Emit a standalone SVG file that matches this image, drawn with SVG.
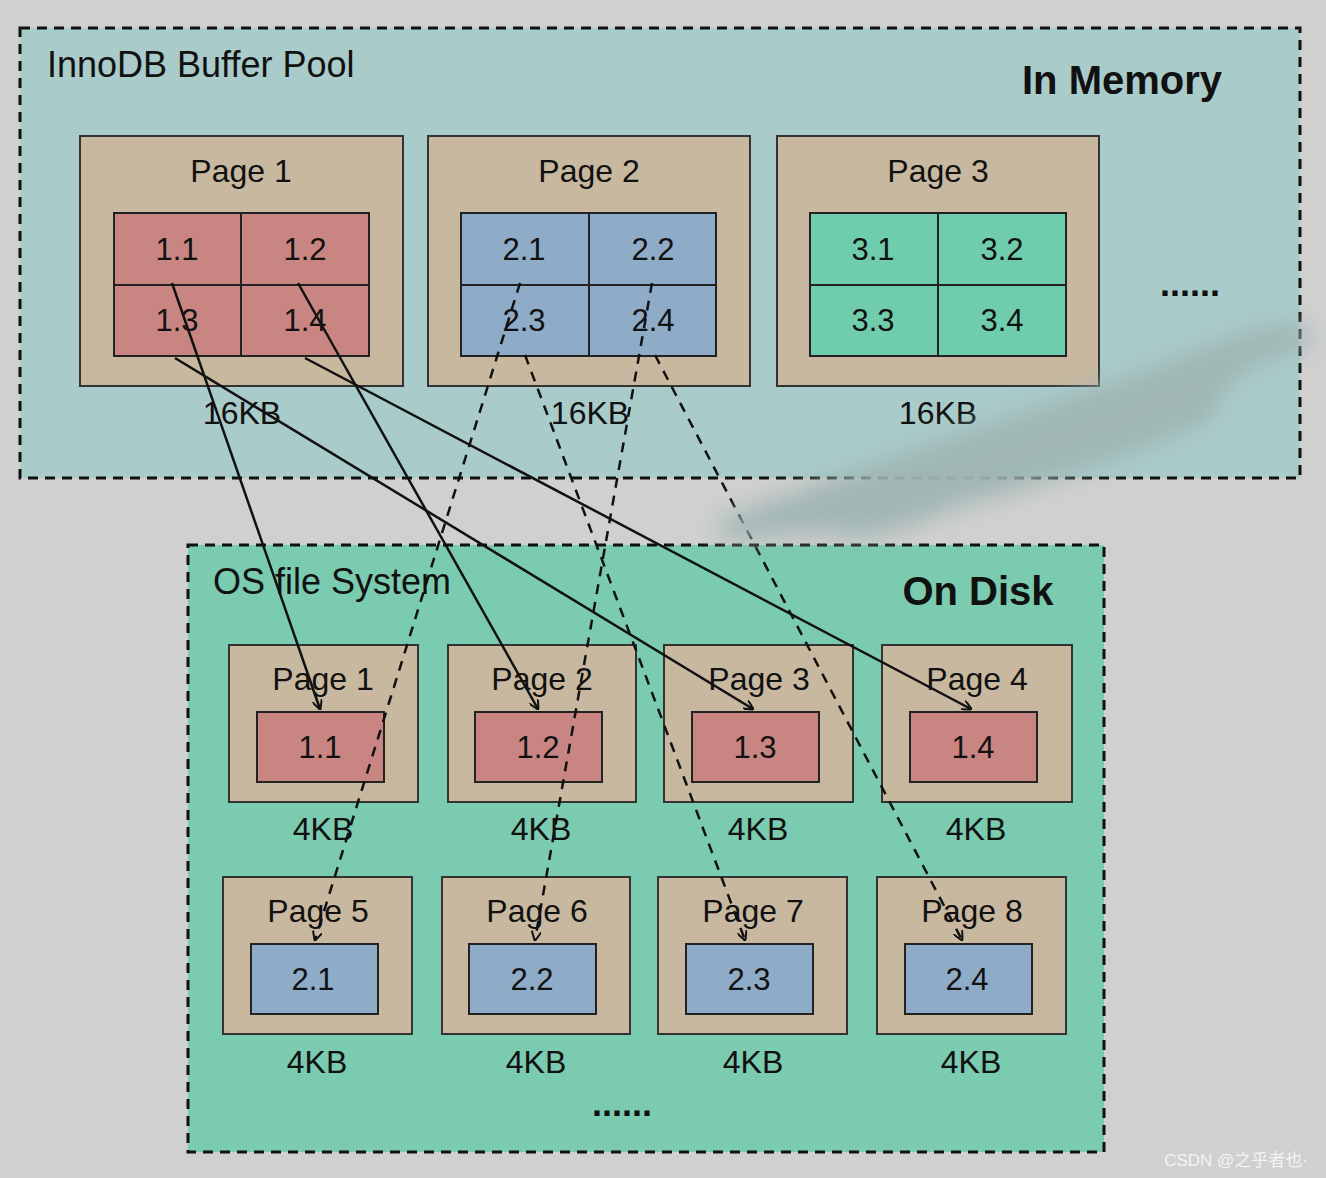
<svg xmlns="http://www.w3.org/2000/svg" width="1326" height="1178" viewBox="0 0 1326 1178">
<style>
text{font-family:"Liberation Sans",Arial,sans-serif;fill:#111}
.pg{fill:#c8b89f;stroke:#333;stroke-width:2}
.r{fill:#c98581;stroke:#222;stroke-width:2}
.b{fill:#8eabc8;stroke:#222;stroke-width:2}
.g{fill:#6fcdae;stroke:#222;stroke-width:2}
.t{font-size:32px;text-anchor:middle}
.s{font-size:31px;text-anchor:middle}
.ln{stroke:#111;stroke-width:2.5;fill:none;marker-end:url(#ah)}
.d{stroke-dasharray:10 8}
</style>
<defs>
<marker id="ah" markerWidth="10" markerHeight="10" refX="9" refY="5" orient="auto" markerUnits="userSpaceOnUse" viewBox="0 0 10 10"><path d="M0,0 L10,5 L0,10" fill="none" stroke="#111" stroke-width="2"/></marker>
<filter id="bl"><feGaussianBlur stdDeviation="12"/></filter>
</defs>
<rect width="1326" height="1178" fill="#d0d0d0"/>
<g id="memory">
<rect x="20" y="28" width="1280" height="450" fill="#a9cbca" stroke="#111" stroke-width="3" stroke-dasharray="10 7"/>
<text x="47" y="77" style="font-size:36px">InnoDB Buffer Pool</text>
<text x="1122" y="94" style="font-size:40px;font-weight:bold;text-anchor:middle">In Memory</text>
<text x="1190" y="296" style="font-size:36px;font-weight:bold;text-anchor:middle">......</text>
</g>
<g id="mp1"><rect class="pg" x="80" y="136" width="323" height="250"/><text class="t" x="241" y="182">Page 1</text>
<rect class="r" x="114" y="213" width="127" height="72"/><rect class="r" x="241" y="213" width="128" height="72"/><rect class="r" x="114" y="285" width="127" height="71"/><rect class="r" x="241" y="285" width="128" height="71"/>
<text class="s" x="177" y="260">1.1</text><text class="s" x="305" y="260">1.2</text><text class="s" x="177" y="331">1.3</text><text class="s" x="305" y="331">1.4</text>
<text class="t" x="242" y="424">16KB</text></g>
<g id="mp2"><rect class="pg" x="428" y="136" width="322" height="250"/><text class="t" x="589" y="182">Page 2</text>
<rect class="b" x="461" y="213" width="128" height="72"/><rect class="b" x="589" y="213" width="127" height="72"/><rect class="b" x="461" y="285" width="128" height="71"/><rect class="b" x="589" y="285" width="127" height="71"/>
<text class="s" x="524" y="260">2.1</text><text class="s" x="653" y="260">2.2</text><text class="s" x="524" y="331">2.3</text><text class="s" x="653" y="331">2.4</text>
<text class="t" x="590" y="424">16KB</text></g>
<g id="mp3"><rect class="pg" x="777" y="136" width="322" height="250"/><text class="t" x="938" y="182">Page 3</text>
<rect class="g" x="810" y="213" width="128" height="72"/><rect class="g" x="938" y="213" width="128" height="72"/><rect class="g" x="810" y="285" width="128" height="71"/><rect class="g" x="938" y="285" width="128" height="71"/>
<text class="s" x="873" y="260">3.1</text><text class="s" x="1002" y="260">3.2</text><text class="s" x="873" y="331">3.3</text><text class="s" x="1002" y="331">3.4</text>
<text class="t" x="938" y="424">16KB</text></g>
<g id="disk">
<rect x="188" y="545" width="916" height="607" fill="#7acbb0" stroke="#111" stroke-width="3" stroke-dasharray="10 7"/>
<text x="213" y="594" style="font-size:36px">OS file System</text>
<text x="978" y="605" style="font-size:40px;font-weight:bold;text-anchor:middle">On Disk</text>
<text x="622" y="1116" style="font-size:36px;font-weight:bold;text-anchor:middle">......</text>
</g>
<g id="d1"><rect class="pg" x="229" y="645" width="189" height="157"/><text class="t" x="323" y="690">Page 1</text><rect class="r" x="257" y="712" width="127" height="70"/><text class="s" x="320" y="758">1.1</text><text class="t" x="323" y="840">4KB</text></g>
<g id="d2"><rect class="pg" x="448" y="645" width="188" height="157"/><text class="t" x="542" y="690">Page 2</text><rect class="r" x="475" y="712" width="127" height="70"/><text class="s" x="538" y="758">1.2</text><text class="t" x="541" y="840">4KB</text></g>
<g id="d3"><rect class="pg" x="664" y="645" width="189" height="157"/><text class="t" x="759" y="690">Page 3</text><rect class="r" x="692" y="712" width="127" height="70"/><text class="s" x="755" y="758">1.3</text><text class="t" x="758" y="840">4KB</text></g>
<g id="d4"><rect class="pg" x="882" y="645" width="190" height="157"/><text class="t" x="977" y="690">Page 4</text><rect class="r" x="910" y="712" width="127" height="70"/><text class="s" x="973" y="758">1.4</text><text class="t" x="976" y="840">4KB</text></g>
<g id="d5"><rect class="pg" x="223" y="877" width="189" height="157"/><text class="t" x="318" y="922">Page 5</text><rect class="b" x="251" y="944" width="127" height="70"/><text class="s" x="313" y="990">2.1</text><text class="t" x="317" y="1073">4KB</text></g>
<g id="d6"><rect class="pg" x="442" y="877" width="188" height="157"/><text class="t" x="537" y="922">Page 6</text><rect class="b" x="469" y="944" width="127" height="70"/><text class="s" x="532" y="990">2.2</text><text class="t" x="536" y="1073">4KB</text></g>
<g id="d7"><rect class="pg" x="658" y="877" width="189" height="157"/><text class="t" x="753" y="922">Page 7</text><rect class="b" x="686" y="944" width="127" height="70"/><text class="s" x="749" y="990">2.3</text><text class="t" x="753" y="1073">4KB</text></g>
<g id="d8"><rect class="pg" x="877" y="877" width="189" height="157"/><text class="t" x="972" y="922">Page 8</text><rect class="b" x="905" y="944" width="127" height="70"/><text class="s" x="967" y="990">2.4</text><text class="t" x="971" y="1073">4KB</text></g>
<g id="connectors">
<line class="ln" x1="172" y1="283" x2="320" y2="709"/>
<line class="ln" x1="298" y1="283" x2="538" y2="709"/>
<line class="ln" x1="175" y1="358" x2="753" y2="709"/>
<line class="ln" x1="305" y1="358" x2="971" y2="709"/>
<line class="ln d" x1="520" y1="283" x2="315" y2="940"/>
<line class="ln d" x1="652" y1="283" x2="535" y2="940"/>
<line class="ln d" x1="525" y1="355" x2="745" y2="940"/>
<line class="ln d" x1="655" y1="355" x2="962" y2="940"/>
</g>
<path d="M720,520 C850,470 1000,420 1120,380 C1200,350 1260,320 1300,325 C1320,335 1310,350 1280,355 C1230,370 1220,400 1210,420 C1150,450 1050,480 950,510 C900,530 860,545 840,535 C800,530 760,540 720,540 Z" fill="#9fb5b2" filter="url(#bl)" opacity="0.95"/>
<text x="1308" y="1166" style="font-size:17px;text-anchor:end;fill:#f4f4f4;font-family:'Liberation Sans','Noto Sans CJK SC',sans-serif">CSDN @之乎者也·</text>
</svg>
